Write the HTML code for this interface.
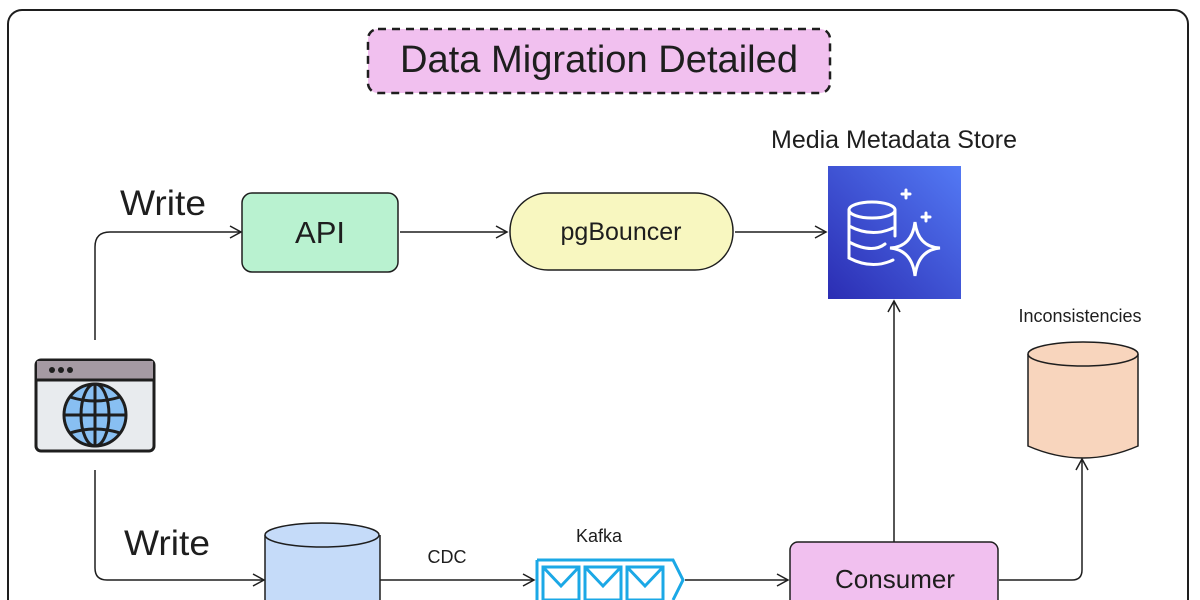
<!DOCTYPE html>
<html><head><style>
body{margin:0;background:#fff;}
svg{display:block;}
text{font-family:"Liberation Sans",sans-serif;fill:#1e1e1e;}
</style></head><body>
<svg width="1200" height="600" viewBox="0 0 1200 600" xmlns="http://www.w3.org/2000/svg">
<defs>
<linearGradient id="g" x1="0" y1="1" x2="1" y2="0">
<stop offset="0" stop-color="#2b2db3"/><stop offset="1" stop-color="#5379f4"/>
</linearGradient>
</defs>
<rect x="8" y="10" width="1180" height="620" rx="14" fill="none" stroke="#1e1e1e" stroke-width="2"/>
<rect x="368" y="29" width="462" height="64" rx="10" fill="#f1c0ef" stroke="#1e1e1e" stroke-width="2.5" stroke-dasharray="8 6"/>
<text x="599" y="72" font-size="38" text-anchor="middle" textLength="398" lengthAdjust="spacingAndGlyphs">Data Migration Detailed</text>

<text x="120" y="215" font-size="35" textLength="86" lengthAdjust="spacingAndGlyphs">Write</text>
<text x="124" y="555" font-size="35" textLength="86" lengthAdjust="spacingAndGlyphs">Write</text>

<rect x="242" y="193" width="156" height="79" rx="10" fill="#b9f2d0" stroke="#1e1e1e" stroke-width="1.5"/>
<text x="320" y="243" font-size="31" text-anchor="middle">API</text>
<rect x="510" y="193" width="223" height="77" rx="38" fill="#f8f7c0" stroke="#1e1e1e" stroke-width="1.5"/>
<text x="621" y="240" font-size="25" text-anchor="middle">pgBouncer</text>

<text x="894" y="148" font-size="25" text-anchor="middle">Media Metadata Store</text>
<rect x="828" y="166" width="133" height="133" fill="url(#g)"/>
<g stroke="#fff" stroke-width="3" fill="none" stroke-linecap="round">
<ellipse cx="872" cy="210" rx="23" ry="8"/>
<path d="M849 210 V258 Q872 270 893 260"/>
<path d="M895 210 V236"/>
<path d="M849 226 Q872 238 893 228"/><path d="M849 242 Q872 254 885 244"/>
<path d="M915 222 Q918 247 940 248 Q918 250 915 276 Q912 250 890 248 Q912 247 915 222Z"/>
<path d="M906 190 v8 M902 194 h8 M926 213 v8 M922 217 h8"/>
</g>

<text x="1080" y="322" font-size="18" text-anchor="middle">Inconsistencies</text>
<path d="M1028 354 V446 Q1083 470 1138 446 V354" fill="#f8d5bd" stroke="#1e1e1e" stroke-width="1.5"/>
<ellipse cx="1083" cy="354" rx="55" ry="12" fill="#f8d5bd" stroke="#1e1e1e" stroke-width="1.5"/>

<rect x="36" y="360" width="118" height="91" rx="5" fill="#e8ebee" stroke="#1e1e1e" stroke-width="3"/>
<rect x="37" y="361" width="116" height="18" fill="#a59aa3"/>
<line x1="36" y1="380" x2="154" y2="380" stroke="#1e1e1e" stroke-width="3"/>
<circle cx="52" cy="370" r="3" fill="#1e1e1e"/><circle cx="61" cy="370" r="3" fill="#1e1e1e"/><circle cx="70" cy="370" r="3" fill="#1e1e1e"/>
<g stroke="#1e1e1e" stroke-width="3" fill="none">
<ellipse cx="95" cy="415" rx="31" ry="31" fill="#88bff2"/>
<ellipse cx="95" cy="415" rx="14" ry="31"/>
<line x1="95" y1="384" x2="95" y2="446"/><line x1="64" y1="415" x2="126" y2="415"/>
<path d="M70 397 Q95 405 120 397 M70 433 Q95 425 120 433"/>
</g>

<path d="M265 535 V610 H380 V535" fill="#c5dbf9" stroke="#1e1e1e" stroke-width="1.5"/>
<ellipse cx="322" cy="535" rx="57" ry="12" fill="#c5dbf9" stroke="#1e1e1e" stroke-width="1.5"/>

<text x="447" y="563" font-size="18" text-anchor="middle">CDC</text>
<text x="599" y="542" font-size="18" text-anchor="middle">Kafka</text>
<path d="M537 560 H673 L683 580 L673 600" fill="none" stroke="#1ba8e6" stroke-width="3"/>
<line x1="537" y1="560" x2="537" y2="600" stroke="#1ba8e6" stroke-width="3"/>
<g fill="none" stroke="#1ba8e6" stroke-width="3">
<rect x="543" y="567" width="36" height="33"/><path d="M543 567 L561 586 L579 567"/>
<rect x="585" y="567" width="36" height="33"/><path d="M585 567 L603 586 L621 567"/>
<rect x="627" y="567" width="36" height="33"/><path d="M627 567 L645 586 L663 567"/>
</g>

<rect x="790" y="542" width="208" height="80" rx="8" fill="#f1c0ef" stroke="#1e1e1e" stroke-width="1.5"/>
<text x="895" y="588" font-size="26" text-anchor="middle">Consumer</text>

<g fill="none" stroke="#1e1e1e" stroke-width="1.5">
<path d="M95 340 V247 Q95 232 110 232 H240"/><path d="M230 226 L241 232 L230 238"/>
<path d="M400 232 H506"/><path d="M496 226 L507 232 L496 238"/>
<path d="M735 232 H825"/><path d="M815 226 L826 232 L815 238"/>
<path d="M95 470 V568 Q95 580 107 580 H263"/><path d="M253 574 L264 580 L253 586"/>
<path d="M380 580 H533"/><path d="M523 574 L534 580 L523 586"/>
<path d="M685 580 H787"/><path d="M777 574 L788 580 L777 586"/>
<path d="M894 542 V302"/><path d="M888 312 L894 301 L900 312"/>
<path d="M999 580 H1072 Q1082 580 1082 570 V460"/><path d="M1076 470 L1082 459 L1088 470"/>
</g>
</svg>
</body></html>
